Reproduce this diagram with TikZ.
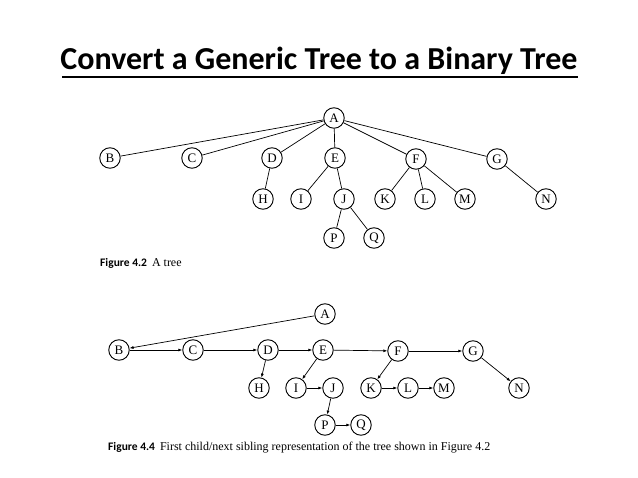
\documentclass[tikz,border=0pt]{standalone}
\usepackage{fontspec}
\setmainfont{Liberation Serif}
\newfontfamily\titlefont{Carlito}
\newfontfamily\capsans{Carlito}
\usetikzlibrary{arrows.meta}
\begin{document}
\begin{tikzpicture}[x=1pt,y=-1pt,
  nd/.style={circle,draw,line width=0.9pt,minimum size=20.5pt,inner sep=0pt,font=\fontsize{13}{13}\selectfont},
  ed/.style={line width=0.7pt},
  ar/.style={line width=0.7pt,-{Latex[length=4pt,width=3pt]}}]
\useasboundingbox (0,0) rectangle (638,478);
% title
\node[anchor=base,font=\titlefont\bfseries\fontsize{32}{32}\selectfont,inner sep=0pt] (title) at (319,70) {Convert a Generic Tree to a Binary Tree};
\draw[line width=1.5pt] (62,77) -- (578,77);
% top tree
\node[nd] (A) at (334,118) {A};
\node[nd] (B) at (110,158) {B};
\node[nd] (C) at (192,158) {C};
\node[nd] (D) at (272,158) {D};
\node[nd] (E) at (335,158) {E};
\node[nd] (F) at (416,159) {F};
\node[nd] (G) at (497,159) {G};
\node[nd] (H) at (263,199) {H};
\node[nd] (I) at (301,199) {I};
\node[nd] (J) at (344,199) {J};
\node[nd] (K) at (385,199) {K};
\node[nd] (L) at (425,199) {L};
\node[nd] (M) at (465,199) {M};
\node[nd] (N) at (546,199) {N};
\node[nd] (P) at (334,238) {P};
\node[nd] (Q) at (374,238) {Q};
\foreach \c in {B,C,D,E,F,G} \draw[ed] (A) -- (\c);
\draw[ed] (D) -- (H);
\draw[ed] (E) -- (I);
\draw[ed] (E) -- (J);
\draw[ed] (J) -- (P);
\draw[ed] (J) -- (Q);
\draw[ed] (F) -- (K);
\draw[ed] (F) -- (L);
\draw[ed] (F) -- (M);
\draw[ed] (G) -- (N);
\node[anchor=base west,inner sep=0pt] (cap1) at (100,267) {{\capsans\bfseries\fontsize{11.5}{11.5}\selectfont Figure 4.2}\hspace{5pt}{\fontsize{12}{12}\selectfont A tree}};
% bottom tree
\node[nd] (A2) at (325,314) {A};
\node[nd] (B2) at (119,350) {B};
\node[nd] (C2) at (193,350) {C};
\node[nd] (D2) at (268,350) {D};
\node[nd] (E2) at (323,350) {E};
\node[nd] (F2) at (398,351) {F};
\node[nd] (G2) at (473,351) {G};
\node[nd] (H2) at (259,388) {H};
\node[nd] (I2) at (296,388) {I};
\node[nd] (J2) at (333,388) {J};
\node[nd] (K2) at (371,388) {K};
\node[nd] (L2) at (408,388) {L};
\node[nd] (M2) at (444,388) {M};
\node[nd] (N2) at (519,388) {N};
\node[nd] (P2) at (325,425) {P};
\node[nd] (Q2) at (361,425) {Q};
\draw[ar] (A2) -- (B2);
\draw[ar] (B2) -- (C2);
\draw[ar] (C2) -- (D2);
\draw[ar] (D2) -- (E2);
\draw[ar] (E2) -- (F2);
\draw[ar] (F2) -- (G2);
\draw[ar] (D2) -- (H2);
\draw[ar] (E2) -- (I2);
\draw[ar] (I2) -- (J2);
\draw[ar] (J2) -- (P2);
\draw[ar] (P2) -- (Q2);
\draw[ar] (F2) -- (K2);
\draw[ar] (K2) -- (L2);
\draw[ar] (L2) -- (M2);
\draw[ar] (G2) -- (N2);
\node[anchor=base west,inner sep=0pt] (cap2) at (108,451) {{\capsans\bfseries\fontsize{11.5}{11.5}\selectfont Figure 4.4}\hspace{5pt}{\fontsize{12}{12}\selectfont First child/next sibling representation of the tree shown in Figure 4.2}};
\end{tikzpicture}
\end{document}
